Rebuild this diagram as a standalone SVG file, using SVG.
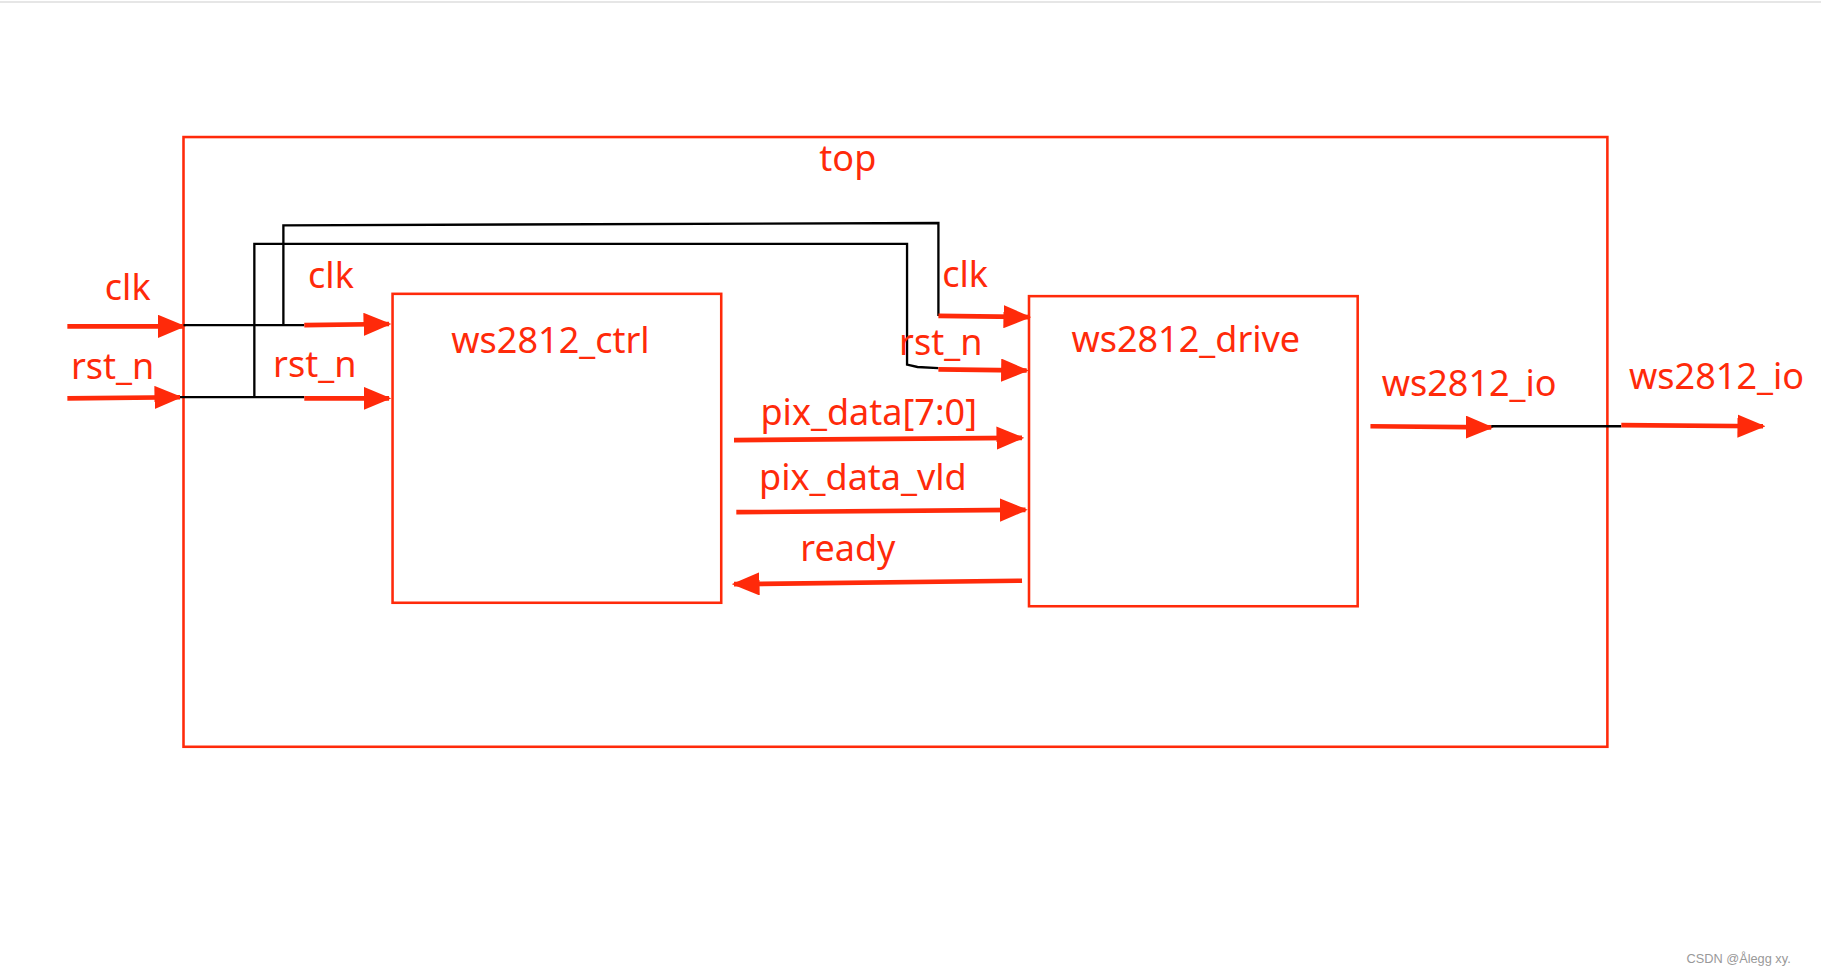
<svg xmlns="http://www.w3.org/2000/svg" width="1821" height="976" viewBox="0 0 1821 976">
<defs>
<marker id="ah" markerWidth="6" markerHeight="5" refX="5.5" refY="2.5" orient="auto" markerUnits="strokeWidth"><path d="M0,0 L6,2.5 L0,5 z" fill="#ff2a0a"/></marker>
<style>
.box{fill:none;stroke:#ff2a0a;stroke-width:2.2}
.a{stroke:#ff2a0a;stroke-width:4;fill:none;marker-end:url(#ah)}
.w{stroke:#000;stroke-width:2;fill:none}
text{font-family:"Noto Sans","Open Sans",sans-serif;fill:#ff2a0a;font-size:31px;text-anchor:middle}
</style>
</defs>
<rect width="1821" height="976" fill="#fff"/>
<line x1="0" y1="2" x2="1821" y2="2" stroke="#e6e6e6" stroke-width="2"/>
<g transform="scale(1.1614)">
<g id="top"><rect class="box" x="158" y="118" width="1226" height="525"/><text x="730" y="147">top</text></g>
<g id="ws2812_ctrl"><rect class="box" x="338" y="253" width="283" height="266"/><text x="474" y="304">ws2812_ctrl</text></g>
<g id="ws2812_drive"><rect class="box" x="886" y="255" width="283" height="267"/><text x="1021" y="303">ws2812_drive</text></g>
<g id="connectors">
<line class="a" x1="58" y1="281" x2="158" y2="281"/>
<line class="a" x1="58" y1="343" x2="155" y2="342"/>
<line class="w" x1="158" y1="280" x2="262" y2="280"/>
<line class="a" x1="262" y1="280" x2="335" y2="279"/>
<line class="w" x1="155" y1="342" x2="262" y2="342"/>
<line class="a" x1="262" y1="343" x2="335" y2="343"/>
<polyline class="w" points="244,280 244,194 808,192 808,272"/>
<line class="a" x1="808" y1="272" x2="886" y2="273"/>
<polyline class="w" points="219,342 219,210 781,210 781,314 790,316 808,317"/>
<line class="a" x1="808" y1="318" x2="884" y2="319"/>
<line class="a" x1="632" y1="379" x2="880" y2="377"/>
<line class="a" x1="634" y1="441" x2="883" y2="439"/>
<line class="a" x1="880" y1="500" x2="632" y2="503"/>
<line class="a" x1="1180" y1="367" x2="1284" y2="368"/>
<line class="w" x1="1284" y1="367" x2="1396" y2="367"/>
<line class="a" x1="1396" y1="366" x2="1518" y2="367"/>
</g>
<text x="110" y="258">clk</text>
<text x="97" y="326">rst_n</text>
<text x="285" y="248">clk</text>
<text x="271" y="325">rst_n</text>
<text x="831" y="247">clk</text>
<text x="810" y="306">rst_n</text>
<text x="748" y="366">pix_data[7:0]</text>
<text x="743" y="422">pix_data_vld</text>
<text x="730" y="483">ready</text>
<text x="1265" y="341">ws2812_io</text>
<text x="1478" y="335">ws2812_io</text>
<text x="1497" y="829" style="font-size:11px;fill:#999;font-family:'Liberation Sans',sans-serif">CSDN @Ålegg xy.</text>
</g>
</svg>
